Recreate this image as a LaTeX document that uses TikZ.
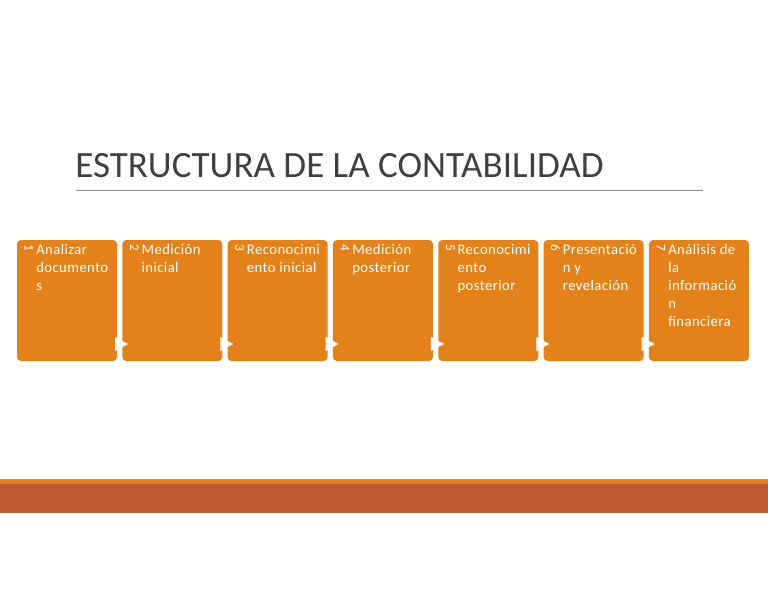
\documentclass[tikz,border=0pt]{standalone}
\usepackage{fontspec}
\setmainfont{Carlito}
\begin{document}
\begin{tikzpicture}[x=0.75pt,y=-0.75pt,
  stepbox/.style={fill=boxor,rounded corners=3pt},
  numlab/.style={text=white,font=\fontsize{10}{10}\selectfont,rotate=-90,inner sep=0pt},
  boxtxt/.style={text=white,font=\fontsize{11}{13.5}\selectfont\addfontfeature{LetterSpace=3},align=left,anchor=north west,inner sep=0pt},
  tri/.style={fill=white,draw=none}]
\definecolor{boxor}{HTML}{E3821B}
\definecolor{rust}{HTML}{BE5A2D}
\useasboundingbox (0,0) rectangle (768,594);
\fill[white] (0,0) rectangle (768,594);
\node[anchor=west,text=black!75,font=\fontsize{27.8}{28}\selectfont,inner sep=0pt] (title) at (75,166) {ESTRUCTURA DE LA CONTABILIDAD};
\draw[black!45,line width=0.6pt] (76,190) -- (703,190);
\fill[boxor] (0,479) rectangle (768,484);
\fill[rust] (0,484) rectangle (768,513);
\foreach \i/\t in {1/{Analizar\\documento\\s},2/{Medición\\inicial},3/{Reconocimi\\ento inicial},4/{Medición\\posterior},5/{Reconocimi\\ento\\posterior},6/{Presentació\\n y\\revelación},7/{Análisis de\\la\\informació\\n\\financiera}}{
  \pgfmathsetmacro{\xx}{17+(\i-1)*105.33}
  \fill[stepbox] (\xx,240) rectangle ++(100,121);
  \node[numlab] (n\i) at (\xx+12,248) {\i};
  \node[boxtxt] (t\i) at (\xx+19,244) {\t};
}
\foreach \i in {1,...,6}{
  \pgfmathsetmacro{\xx}{17+(\i-1)*105.33+100}
  \fill[tri] (\xx-2,337) -- (\xx+11,344) -- (\xx-2,351) -- cycle;
}
\end{tikzpicture}
\end{document}
